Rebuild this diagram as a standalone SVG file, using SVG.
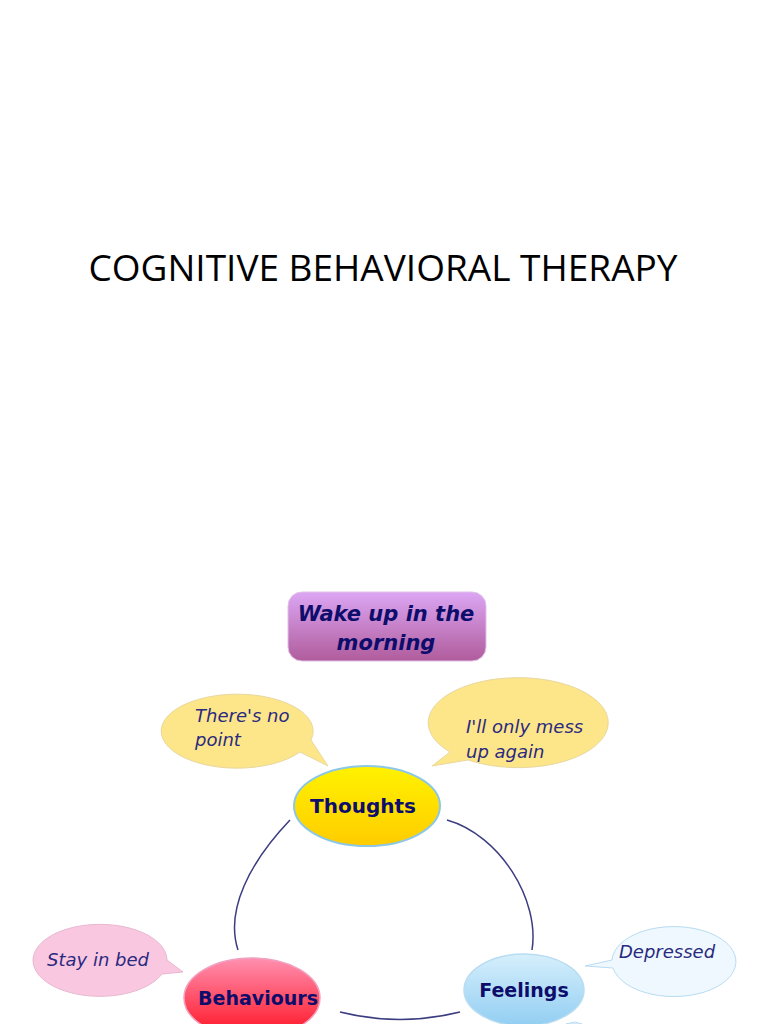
<svg xmlns="http://www.w3.org/2000/svg" width="768" height="1024" viewBox="0 0 768 1024">
<defs>
<linearGradient id="gW" x1="0" y1="0" x2="0" y2="1"><stop offset="0" stop-color="#dca6f4"/><stop offset="1" stop-color="#b05c9c"/></linearGradient>
<linearGradient id="gT" x1="0" y1="0" x2="0" y2="1"><stop offset="0" stop-color="#fff200"/><stop offset="1" stop-color="#ffcc00"/></linearGradient>
<linearGradient id="gB" x1="0" y1="0" x2="0" y2="1"><stop offset="0" stop-color="#ff90b0"/><stop offset="1" stop-color="#ff1020"/></linearGradient>
<linearGradient id="gF" x1="0" y1="0" x2="0" y2="1"><stop offset="0" stop-color="#d6effc"/><stop offset="1" stop-color="#92cef2"/></linearGradient>
</defs>
<style>
.title{font-family:"Open Sans","Liberation Sans",sans-serif;font-size:37px;fill:#000}
.b{font-family:Verdana,"DejaVu Sans",sans-serif;font-weight:bold;fill:#0d0d6b;text-anchor:middle}
.i{font-family:Verdana,"DejaVu Sans",sans-serif;font-style:italic;fill:#2a2a80;font-size:18px}
.y{fill:#fde58a;stroke:#e8d8a0;stroke-width:1}
.p{fill:#f9c8e0;stroke:#e8b8d0;stroke-width:1}
.l{fill:#eef8fe;stroke:#b8dcf2;stroke-width:1}
.c{fill:none;stroke:#3c3c80;stroke-width:1.5}
</style>
<text class="title" x="383" y="281" text-anchor="middle">COGNITIVE BEHAVIORAL THERAPY</text>
<g id="connectors">
<path class="c" d="M290,820 C250,862 225,910 238,950"/>
<path class="c" d="M447,820 C500,835 540,900 532,950"/>
<path class="c" d="M340,1012 C380,1022 420,1022 460,1012"/>
</g>
<g id="wake"><rect x="288" y="592" width="198" height="69" rx="14" fill="url(#gW)" stroke="#e0c0e8"/>
<text class="b" font-style="italic" font-size="21" x="386" y="621">Wake up in the</text>
<text class="b" font-style="italic" font-size="21" x="386" y="650">morning</text></g>
<g id="bubble1"><path class="y" d="M300,752 L328,766 L311,740 A76,37 0 1,0 300,752 Z"/>
<text class="i" x="195" y="722">There's no</text><text class="i" x="195" y="746">point</text></g>
<g id="bubble2"><path class="y" d="M450,752 L432,766 L468,760 A90,45 0 1,0 450,752 Z"/>
<text class="i" x="466" y="733">I'll only mess</text><text class="i" x="466" y="758">up again</text></g>
<g id="thoughts"><ellipse cx="367" cy="806" rx="73" ry="40" fill="url(#gT)" stroke="#8cc8e6" stroke-width="2"/>
<text class="b" font-size="20" x="363" y="813">Thoughts</text></g>
<g id="bubble3"><path class="p" d="M162,974 L183,972 L167,960 A67,36 0 1,0 162,974 Z"/>
<text class="i" x="47" y="966">Stay in bed</text></g>
<g id="behaviours"><ellipse cx="252" cy="998" rx="68" ry="40" fill="url(#gB)" stroke="#f0a0c0" stroke-width="1.5"/>
<text class="b" font-size="19" x="258" y="1005">Behaviours</text></g>
<g id="bubble4"><path class="l" d="M612,960 L585,966 L613,968 A62,35 0 1,0 612,960 Z"/>
<text class="i" x="619" y="958">Depressed</text></g>
<g id="feelings"><ellipse cx="524" cy="990" rx="60" ry="36" fill="url(#gF)" stroke="#b8dcf2" stroke-width="1.5"/>
<text class="b" font-size="19" x="524" y="997">Feelings</text>
<path class="l" d="M566,1024 L575,1022 L582,1024 Z"/></g>
</svg>
